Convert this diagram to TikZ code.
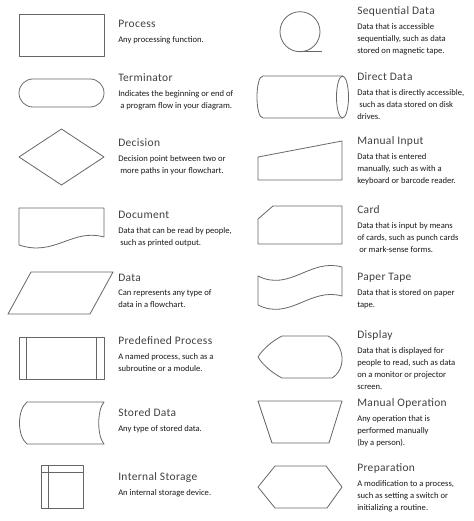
\documentclass[tikz,border=0pt]{standalone}
\usepackage{fontspec}
\setmainfont{Carlito}
\newfontfamily\headfont[LetterSpace=3]{Carlito}
\usetikzlibrary{positioning}

\begin{document}
\begin{tikzpicture}[
  x=0.75pt, y=-0.75pt,
  sym/.style={draw=black!60, line width=0.6pt, line join=round},
  head/.style={
    anchor=west, inner sep=0pt, text height=6pt, text depth=1.8pt,
    font=\headfont\fontsize{8.6}{10}\selectfont, text=black!75
  },
  desc/.style={
    inner sep=0pt, align=left, text=black!90,
    font=\fontsize{6.45}{9}\selectfont
  }
]
  \useasboundingbox (0,0) rectangle (474,521);

  % left column
  \draw[sym] (19,14) rectangle (104,56);
  \draw[sym, rounded corners=10.4pt] (19,79) rectangle (104,107);
  \draw[sym] (19,157) -- (61.5,129) -- (104,157) -- (61.5,185) -- cycle;
  \draw[sym] (19,208) -- (104,208) -- (104,237)
    .. controls (72,228) and (55,257) .. (19,245) -- cycle;
  \draw[sym] (31,272) -- (113,272) -- (90,314) -- (8,314) -- cycle;
  \draw[sym] (19,337) rectangle (104,379);
  \draw[sym] (26.7,337) -- (26.7,379);
  \draw[sym] (96.7,337) -- (96.7,379);
  \draw[sym] (27,402) -- (104,402) .. controls (97,410) and (97,436) .. (104,444)
    -- (27,444) .. controls (17,436) and (17,410) .. (27,402) -- cycle;
  \draw[sym] (41,465) rectangle (83,508);
  \draw[sym] (48,465) -- (48,508);
  \draw[sym] (41,472) -- (83,472);

  % right column
  \draw[sym] (300,31.7) circle [radius=15pt];
  \draw[sym] (300,51.7) -- (322,51.7);
  \draw[sym] (342.5,76) -- (263,76) .. controls (255,76) and (255,118) .. (263,118)
    -- (342.5,118);
  \draw[sym] (342.5,97) ellipse [x radius=4.5pt, y radius=15.75pt];
  \draw[sym] (258,157) -- (342,141) -- (342,180) -- (258,180) -- cycle;
  \draw[sym] (273,206) -- (342,206) -- (342,244) -- (258,244) -- (258,219) -- cycle;
  \draw[sym] (258,276) .. controls (290,292) and (310,258) .. (342,267) -- (342,296)
    .. controls (310,287) and (290,321) .. (258,305) -- cycle;
  \draw[sym] (282,336) -- (328,336) .. controls (346,345) and (346,370) .. (332,378)
    -- (282,378) .. controls (272,373) and (262,364) .. (258,357)
    .. controls (262,350) and (272,341) .. (282,336) -- cycle;
  \draw[sym] (258,401) -- (342,401) -- (329,443) -- (272,443) -- cycle;
  \draw[sym] (275,466) -- (326,466) -- (342,487) -- (327,508) -- (275,508)
    -- (258,487) -- cycle;

  \node[head] (procT) at (118,25) {Process};
  \node[desc, below=4pt of procT.south west, anchor=north west] (procD)
    {Any processing function.};
  \node[head] (termT) at (118,79) {Terminator};
  \node[desc, below=4pt of termT.south west, anchor=north west] (termD)
    {Indicates the beginning or end of\\\hspace*{1.5pt}a program flow in your diagram.};
  \node[head] (decT) at (118,144) {Decision};
  \node[desc, below=4pt of decT.south west, anchor=north west] (decD)
    {Decision point between two or\\\hspace*{1.5pt}more paths in your flowchart.};
  \node[head] (docT) at (118,216) {Document};
  \node[desc, below=4pt of docT.south west, anchor=north west] (docD)
    {Data that can be read by people,\\\hspace*{1.5pt}such as printed output.};
  \node[head] (dataT) at (118,279) {Data};
  \node[desc, below=4pt of dataT.south west, anchor=north west] (dataD)
    {Can represents any type of\\data in a flowchart.};
  \node[head] (predT) at (118,342) {Predefined Process};
  \node[desc, below=4pt of predT.south west, anchor=north west] (predD)
    {A named process, such as a\\subroutine or a module.};
  \node[head] (storT) at (118,414) {Stored Data};
  \node[desc, below=4pt of storT.south west, anchor=north west] (storD)
    {Any type of stored data.};
  \node[head] (intT) at (118,478) {Internal Storage};
  \node[desc, below=4pt of intT.south west, anchor=north west] (intD)
    {An internal storage device.};

  \node[head] (seqT) at (357,12) {Sequential Data};
  \node[desc, below=4pt of seqT.south west, anchor=north west] (seqD)
    {Data that is accessible\\sequentially, such as data\\stored on magnetic tape.};
  \node[head] (dirT) at (357,78) {Direct Data};
  \node[desc, below=4pt of dirT.south west, anchor=north west] (dirD)
    {Data that is directly accessible,\\\hspace*{1.5pt}such as data stored on disk\\drives.};
  \node[head] (manT) at (357,142) {Manual Input};
  \node[desc, below=4pt of manT.south west, anchor=north west] (manD)
    {Data that is entered\\manually, such as with a\\keyboard or barcode reader.};
  \node[head] (cardT) at (357,211) {Card};
  \node[desc, below=4pt of cardT.south west, anchor=north west] (cardD)
    {Data that is input by means\\of cards, such as punch cards\\\hspace*{1.5pt}or mark-sense forms.};
  \node[head] (tapeT) at (357,278) {Paper Tape};
  \node[desc, below=4pt of tapeT.south west, anchor=north west] (tapeD)
    {Data that is stored on paper\\tape.};
  \node[head] (dispT) at (357,336) {Display};
  \node[desc, below=4pt of dispT.south west, anchor=north west] (dispD)
    {Data that is displayed for\\people to read, such as data\\on a monitor or projector\\screen.};
  \node[head] (mopT) at (357,404) {Manual Operation};
  \node[desc, below=4pt of mopT.south west, anchor=north west] (mopD)
    {Any operation that is\\performed manually\\(by a person).};
  \node[head] (prepT) at (357,469) {Preparation};
  \node[desc, below=4pt of prepT.south west, anchor=north west] (prepD)
    {A modification to a process,\\such as setting a switch or\\initializing a routine.};
\end{tikzpicture}
\end{document}
